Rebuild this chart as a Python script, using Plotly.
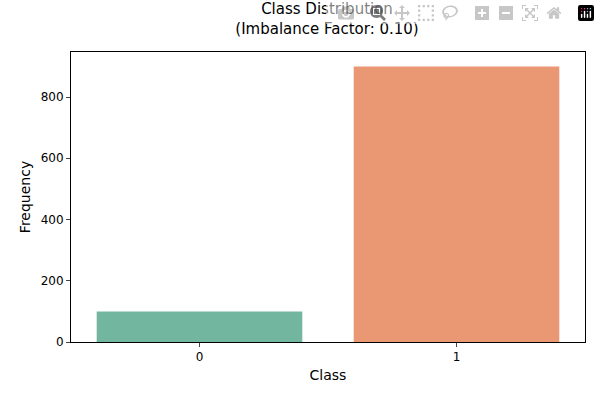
import plotly.graph_objects as go

categories = ["0", "1"]
counts = [100, 900]
colors = ["#73b6a0", "#ea9874"]

fig = go.Figure(go.Bar(x=[0, 1], y=counts, marker_color=colors, width=0.8,
                       marker_line_width=0))
fig.update_layout(
    width=600, height=400, plot_bgcolor="white", paper_bgcolor="white",
    margin=dict(l=71, r=15, t=52, b=58, autoexpand=False),
    font=dict(family="DejaVu Sans", size=12, color="black"),
    title=dict(text="Class Distribution<br>(Imbalance Factor: 0.10)", x=0.545, xanchor="center",
               y=0.965, yanchor="top", font=dict(size=15)),
    showlegend=False,
)
axis = dict(showline=True, linecolor="black", linewidth=1, mirror=True, showgrid=False,
            ticks="outside", ticklen=4, zeroline=False, automargin=False)
fig.update_xaxes(range=[-0.5, 1.5], tickvals=[0, 1], ticktext=categories,
                 title=dict(text="Class", standoff=6), **axis)
fig.update_yaxes(range=[0, 947], tickvals=[0, 200, 400, 600, 800],
                 title=dict(text="Frequency", standoff=6), **axis)
fig.write_html("out.html", post_script="document.body.style.margin='0';")
